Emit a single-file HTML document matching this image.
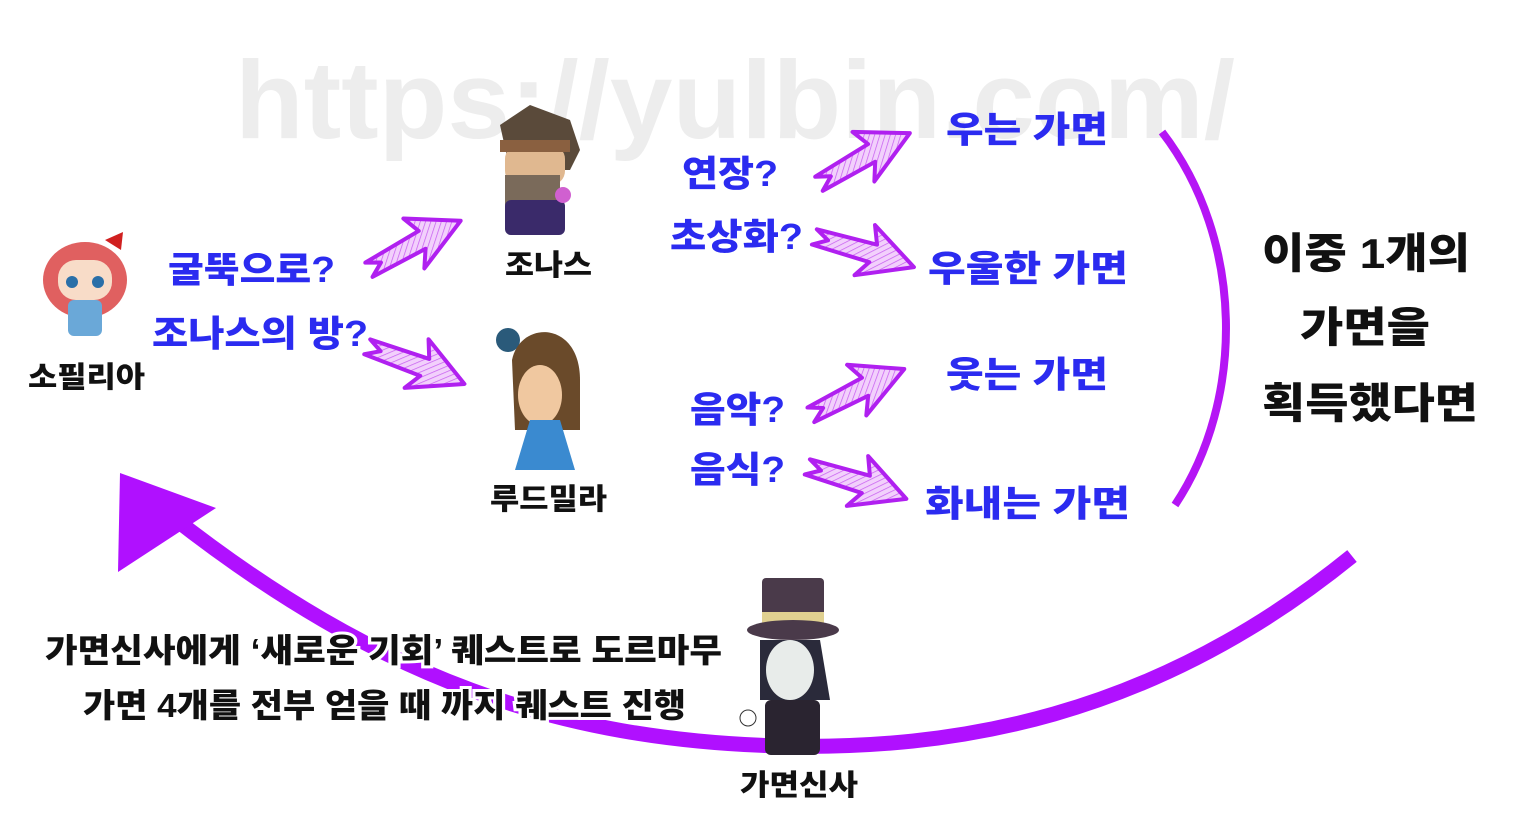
<!DOCTYPE html>
<html><head><meta charset="utf-8"><style>
html,body{margin:0;padding:0;background:#fff;}
svg{display:block;}
text{font-family:"Liberation Sans","Noto Sans CJK KR",sans-serif;font-weight:900;}
.b{fill:#2b2bf0;font-size:36px;}
.k{fill:#111;font-size:29px;stroke:#fff;stroke-width:5px;paint-order:stroke;}
.kb{fill:#111;font-size:33px;stroke:#fff;stroke-width:6px;paint-order:stroke;}
.r{fill:#111;font-size:42px;}
</style></head><body>
<svg width="1536" height="830" viewBox="0 0 1536 830" xmlns="http://www.w3.org/2000/svg">
<defs>
<pattern id="h" width="5" height="5" patternUnits="userSpaceOnUse" patternTransform="rotate(45)">
<rect width="5" height="5" fill="#f2d0fc"/><line x1="0" y1="0" x2="0" y2="5" stroke="#c860f0" stroke-width="1.5"/>
</pattern>
<g id="arr">
<path d="M0,-6 L62,-10 L54,-28 L104,0 L50,26 L60,9 L0,10 L14,1 Z" fill="url(#h)" stroke="#b020f0" stroke-width="4" stroke-linejoin="round"/>
</g>
</defs>
<text x="235" y="138" font-size="110" fill="#ededed" style="font-family:'Liberation Sans',sans-serif;font-weight:700" textLength="1000" lengthAdjust="spacingAndGlyphs">https://yulbin.com/</text>

<use href="#arr" transform="translate(368,268) rotate(-27)"/>
<use href="#arr" transform="translate(368,345) rotate(22)"/>
<use href="#arr" transform="translate(818,182) rotate(-28)"/>
<use href="#arr" transform="translate(815,235) rotate(18)"/>
<use href="#arr" transform="translate(810,413) rotate(-25)"/>
<use href="#arr" transform="translate(808,465) rotate(19)"/>

<path d="M1162,132 C1245,240 1245,400 1175,505" fill="none" stroke="#b515f5" stroke-width="8"/>
<path d="M1352,556 C1150,720 950,750 780,746 C560,740 380,680 170,515" fill="none" stroke="#b010ff" stroke-width="15"/>
<polygon points="120,473 216,508 118,572" fill="#b010ff"/>

<g>
<ellipse cx="85" cy="280" rx="42" ry="38" fill="#e06060"/>
<rect x="58" y="260" width="54" height="40" rx="18" fill="#f8dcc8"/>
<circle cx="72" cy="282" r="6" fill="#2a6fa8"/><circle cx="98" cy="282" r="6" fill="#2a6fa8"/>
<path d="M105,240 l18,-8 l-2,18 z" fill="#d02020"/>
<rect x="68" y="300" width="34" height="36" rx="6" fill="#6aa8d8"/>
</g>
<g>
<path d="M500,125 l30,-20 l40,15 l10,30 l-10,20 l-60,0 z" fill="#5a4a3a"/>
<rect x="505" y="145" width="60" height="40" rx="14" fill="#e0b890"/>
<rect x="500" y="140" width="70" height="12" fill="#8a6040"/>
<path d="M505,175 l55,0 l0,30 l-55,0 z" fill="#7a6a5a"/>
<rect x="505" y="200" width="60" height="35" rx="6" fill="#3a2a6a"/>
<circle cx="563" cy="195" r="8" fill="#d060d0"/>
</g>
<g>
<circle cx="508" cy="340" r="12" fill="#2a5a7a"/>
<path d="M512,360 C520,320 580,320 580,380 L580,430 L515,430 Z" fill="#6a4a2a"/>
<ellipse cx="540" cy="395" rx="22" ry="30" fill="#f0c8a0"/>
<path d="M515,470 l15,-50 l30,0 l15,50 z" fill="#3a8ad0"/>
</g>
<g>
<rect x="762" y="578" width="62" height="48" rx="4" fill="#4a3a4a"/>
<rect x="762" y="612" width="62" height="12" fill="#e0d090"/>
<ellipse cx="793" cy="630" rx="46" ry="10" fill="#4a3a4a"/>
<path d="M760,640 l60,0 l10,60 l-70,0 z" fill="#2a2a3a"/>
<ellipse cx="790" cy="670" rx="24" ry="30" fill="#e8ecea"/>
<rect x="765" y="700" width="55" height="55" rx="6" fill="#2a2430"/>
<circle cx="748" cy="718" r="8" fill="#fff" stroke="#333"/>
</g>

<text class="b" x="168" y="282" textLength="167" lengthAdjust="spacingAndGlyphs">굴뚝으로?</text>
<text class="b" x="152" y="346" textLength="216" lengthAdjust="spacingAndGlyphs">조나스의 방?</text>
<text class="b" x="682" y="186" textLength="96" lengthAdjust="spacingAndGlyphs">연장?</text>
<text class="b" x="670" y="249" textLength="133" lengthAdjust="spacingAndGlyphs">초상화?</text>
<text class="b" x="690" y="422" textLength="95" lengthAdjust="spacingAndGlyphs">음악?</text>
<text class="b" x="690" y="482" textLength="95" lengthAdjust="spacingAndGlyphs">음식?</text>
<text class="b" x="946" y="142" textLength="162" lengthAdjust="spacingAndGlyphs">우는 가면</text>
<text class="b" x="928" y="281" textLength="200" lengthAdjust="spacingAndGlyphs">우울한 가면</text>
<text class="b" x="946" y="387" textLength="162" lengthAdjust="spacingAndGlyphs">웃는 가면</text>
<text class="b" x="925" y="516" textLength="205" lengthAdjust="spacingAndGlyphs">화내는 가면</text>

<text class="k" x="505" y="275" textLength="87" lengthAdjust="spacingAndGlyphs">조나스</text>
<text class="k" x="490" y="509" textLength="117" lengthAdjust="spacingAndGlyphs">루드밀라</text>
<text class="k" x="28" y="387" textLength="117" lengthAdjust="spacingAndGlyphs">소필리아</text>
<text class="k" x="740" y="795" textLength="118" lengthAdjust="spacingAndGlyphs">가면신사</text>

<text class="r" x="1262" y="268" textLength="208" lengthAdjust="spacingAndGlyphs">이중 1개의</text>
<text class="r" x="1300" y="342" textLength="130" lengthAdjust="spacingAndGlyphs">가면을</text>
<text class="r" x="1262" y="418" textLength="216" lengthAdjust="spacingAndGlyphs">획득했다면</text>

<text class="kb" x="45" y="662" textLength="677" lengthAdjust="spacingAndGlyphs">가면신사에게 ‘새로운 기회’ 퀘스트로 도르마무</text>
<text class="kb" x="83" y="717" textLength="603" lengthAdjust="spacingAndGlyphs">가면 4개를 전부 얻을 때 까지 퀘스트 진행</text>
</svg>
</body></html>
